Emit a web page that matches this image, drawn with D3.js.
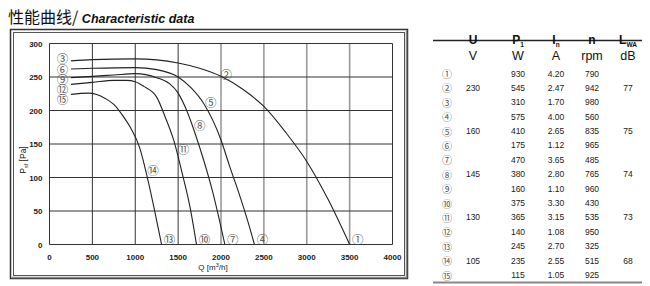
<!DOCTYPE html>
<html>
<head>
<meta charset="utf-8">
<script src="https://cdn.jsdelivr.net/npm/d3@7"></script>
<style>
  body { margin: 0; background: #fff; }
  svg { display: block; font-family: "Liberation Sans", Arial, sans-serif; }
</style>
</head>
<body>
<svg width="650" height="286"></svg>
<script>
// fan curves, Q [m3/h] vs Psf [Pa], one per supply voltage
const curve230 = [[250,274],[500,276],[1000,277],[1500,271],[1750,263],[2000,251],[2250,232],[2500,206],[2750,168],[3000,124],[3250,67],[3500,0]];
const curve160 = [[250,262],[500,263],[1000,264],[1250,261],[1500,250],[1650,234],[1800,210],[2000,156],[2100,117],[2200,80],[2300,40],[2390,0]];
const curve145 = [[250,249],[500,251],[750,253],[1000,255],[1250,249],[1400,240],[1500,226],[1600,200],[1700,165],[1800,125],[1900,80],[1975,40],[2045,0]];
const curve130 = [[250,239],[500,242],[750,245],[900,245],[1000,243],[1100,236],[1250,220],[1350,190],[1450,155],[1550,105],[1640,55],[1714,0]];
const curve105 = [[250,224],[450,226],[550,224],[650,218],[750,209],[850,193],[950,173],[1050,145],[1150,95],[1230,48],[1307,0]];

const curves = [curve230, curve160, curve145, curve130, curve105];
// operating point numbers: start of curve, middle, end of curve
const startIds = [3, 6, 9, 12, 15];
const midIds = [2, 5, 8, 11, 14];
const endIds = [1, 4, 7, 10, 13];
const midFlow = [1980, 1800, 1670, 1480, 1125];

const xTicks = [0, 500, 1000, 1500, 2000, 2500, 3000, 3500, 4000];
const yTicks = [0, 50, 100, 150, 200, 250, 300];

// table values, rows 1..15
const voltages = [230, 160, 145, 130, 105];
const soundLevels = [77, 75, 74, 73, 68];
const powerW = [930, 545, 310, 575, 410, 175, 470, 380, 160, 375, 365, 140, 245, 235, 115];
const currentA = ["4.20", "2.47", "1.70", "4.00", "2.65", "1.12", "3.65", "2.80", "1.10", "3.30", "3.15", "1.08", "2.70", "2.55", "1.05"];
const speedRpm = [790, 942, 980, 560, 835, 965, 485, 765, 960, 430, 535, 950, 325, 515, 925];

function circled(n) { return String.fromCharCode(0x2460 + n - 1); }

const svg = d3.select("svg");

// title
const title = svg.append("text").attr("x", 8).attr("y", 23);
title.append("tspan")
    .style("font-family", "'Noto Sans CJK SC', sans-serif")
    .style("font-size", "16px")
    .attr("fill", "#111")
    .text("性能曲线/ ");
title.append("tspan")
    .style("font-size", "12.5px")
    .style("font-weight", "bold")
    .style("font-style", "italic")
    .attr("fill", "#111")
    .text("Characteristic data");

// double frame round the chart
svg.append("rect").attr("x", 10.5).attr("y", 29.5).attr("width", 397).attr("height", 249)
    .attr("fill", "none").attr("stroke", "#333").attr("stroke-width", 1.5);
svg.append("rect").attr("x", 13.5).attr("y", 32.5).attr("width", 391).attr("height", 243)
    .attr("fill", "none").attr("stroke", "#555").attr("stroke-width", 1);
svg.append("path").attr("d", "M406.5,31 V277.5 H12")
    .attr("fill", "none").attr("stroke", "#888").attr("stroke-width", 1.5);

const x = d3.scaleLinear().domain([0, 4000]).range([49.5, 392.5]);
const y = d3.scaleLinear().domain([0, 300]).range([244.5, 43.5]);

// grid
svg.append("g").selectAll("line")
    .data(xTicks)
    .join("line")
    .attr("x1", d => x(d)).attr("x2", d => x(d))
    .attr("y1", y(0)).attr("y2", y(300))
    .attr("stroke", d => (d >= 2000 && d < 4000) ? "#9a9a9a" : "#333")
    .attr("stroke-width", d => (d >= 2000 && d < 4000) ? 1.6 : 1);
svg.append("g").selectAll("line")
    .data(yTicks)
    .join("line")
    .attr("x1", x(0)).attr("x2", x(4000))
    .attr("y1", d => y(d)).attr("y2", d => y(d))
    .attr("stroke", "#333").attr("stroke-width", 1);

// tick labels
svg.append("g").selectAll("text")
    .data(xTicks)
    .join("text")
    .attr("x", d => x(d)).attr("y", 260)
    .attr("text-anchor", "middle")
    .style("font-size", "8px").style("font-weight", "bold")
    .attr("fill", "#222")
    .text(d => d);
svg.append("g").selectAll("text")
    .data(yTicks)
    .join("text")
    .attr("x", 42.5).attr("y", d => y(d) + 3)
    .attr("text-anchor", "end")
    .style("font-size", "8px").style("font-weight", "bold")
    .attr("fill", "#222")
    .text(d => d);

// axis titles
const xt = svg.append("text").attr("x", 213).attr("y", 270)
    .attr("text-anchor", "middle").style("font-size", "8px").attr("fill", "#222");
xt.append("tspan").text("Q [m");
xt.append("tspan").attr("dy", -3).style("font-size", "5.5px").text("3");
xt.append("tspan").attr("dy", 3).text("/h]");

const yt = svg.append("text").attr("transform", "translate(26,160) rotate(-90)")
    .attr("text-anchor", "middle").style("font-size", "8.5px").attr("fill", "#222");
yt.append("tspan").text("P");
yt.append("tspan").attr("dy", 2).style("font-size", "5.5px").text("sf");
yt.append("tspan").attr("dy", -2).text(" [Pa]");

// curves
const line = d3.line()
    .x(d => x(d[0]))
    .y(d => y(d[1]))
    .curve(d3.curveMonotoneX);

svg.append("g").selectAll("path")
    .data(curves)
    .join("path")
    .attr("d", line)
    .attr("fill", "none")
    .attr("stroke", "#222")
    .attr("stroke-width", 1.1);

// pressure on a curve at a given flow, for label placement
function pressureAt(c, q) {
    for (let i = 1; i < c.length; i++) {
        if (q <= c[i][0]) {
            const t = (q - c[i - 1][0]) / (c[i][0] - c[i - 1][0]);
            return c[i - 1][1] + t * (c[i][1] - c[i - 1][1]);
        }
    }
    return c[c.length - 1][1];
}

const labelStyle = function(sel) {
    sel.attr("text-anchor", "middle")
        .attr("dominant-baseline", "central")
        .style("font-family", "'Noto Sans CJK SC', 'DejaVu Sans', sans-serif")
        .style("font-size", "11.5px")
        .attr("fill", "#555");
};

// start labels stacked down the left side
const startTop = y(curve230[0][1]) - 2.5;
svg.append("g").selectAll("text")
    .data(curves)
    .join("text")
    .attr("x", d => x(d[0][0]) - 8.5)
    .attr("y", (d, i) => startTop + i * 10.25)
    .call(labelStyle)
    .text((d, i) => circled(startIds[i]));

svg.append("g").selectAll("text")
    .data(curves)
    .join("text")
    .attr("x", (d, i) => x(midFlow[i]) + 7)
    .attr("y", (d, i) => y(pressureAt(d, midFlow[i])) - 2)
    .call(labelStyle)
    .text((d, i) => circled(midIds[i]));

svg.append("g").selectAll("text")
    .data(curves)
    .join("text")
    .attr("x", d => x(d[d.length - 1][0]) + 8)
    .attr("y", y(0) - 6)
    .call(labelStyle)
    .text((d, i) => circled(endIds[i]));

// table on the right
const colX = { id: 447, u: 473, p: 518, i: 556, n: 592, l: 628 };
const rowY = d3.scaleLinear().domain([0, 14]).range([73.5, 275]);

svg.append("line").attr("x1", 433).attr("x2", 642).attr("y1", 40.5).attr("y2", 40.5)
    .attr("stroke", "#222").attr("stroke-width", 1.5);
svg.append("line").attr("x1", 433).attr("x2", 642).attr("y1", 282.5).attr("y2", 282.5)
    .attr("stroke", "#888").attr("stroke-width", 2);

const heads = [
    { x: colX.u, main: "U", sub: "" },
    { x: colX.p, main: "P", sub: "1" },
    { x: colX.i, main: "I", sub: "n" },
    { x: colX.n, main: "n", sub: "" },
    { x: colX.l, main: "L", sub: "WA" }
];
const units = ["V", "W", "A", "rpm", "dB"];

const headG = svg.append("g");
heads.forEach(function(h) {
    const t = headG.append("text").attr("x", h.x).attr("y", 44)
        .attr("text-anchor", "middle")
        .style("font-size", "12px").style("font-weight", "bold").attr("fill", "#111");
    t.append("tspan").text(h.main);
    if (h.sub) {
        t.append("tspan").attr("dy", 2.5).style("font-size", "6.5px").text(h.sub);
    }
});
svg.append("g").selectAll("text")
    .data(units)
    .join("text")
    .attr("x", (d, i) => heads[i].x).attr("y", 59.5)
    .attr("text-anchor", "middle")
    .style("font-size", "12.5px").attr("fill", "#111")
    .text(d => d);

const rows = d3.range(15);
const cell = function(sel) {
    sel.attr("text-anchor", "middle")
        .attr("dominant-baseline", "central")
        .style("font-size", "8.5px")
        .attr("fill", "#222");
};
svg.append("g").selectAll("text")
    .data(rows).join("text")
    .attr("x", colX.id).attr("y", d => rowY(d))
    .call(cell)
    .style("font-family", "'Noto Sans CJK SC', 'DejaVu Sans', sans-serif")
    .style("font-size", "10px")
    .attr("fill", "#555")
    .text(d => circled(d + 1));
svg.append("g").selectAll("text")
    .data(powerW).join("text")
    .attr("x", colX.p).attr("y", (d, i) => rowY(i))
    .call(cell).text(d => d);
svg.append("g").selectAll("text")
    .data(currentA).join("text")
    .attr("x", colX.i).attr("y", (d, i) => rowY(i))
    .call(cell).text(d => d);
svg.append("g").selectAll("text")
    .data(speedRpm).join("text")
    .attr("x", colX.n).attr("y", (d, i) => rowY(i))
    .call(cell).text(d => d);
svg.append("g").selectAll("text")
    .data(voltages).join("text")
    .attr("x", colX.u).attr("y", (d, i) => rowY(i * 3 + 1))
    .call(cell).text(d => d);
svg.append("g").selectAll("text")
    .data(soundLevels).join("text")
    .attr("x", colX.l).attr("y", (d, i) => rowY(i * 3 + 1))
    .call(cell).text(d => d);
</script>
</body>
</html>
